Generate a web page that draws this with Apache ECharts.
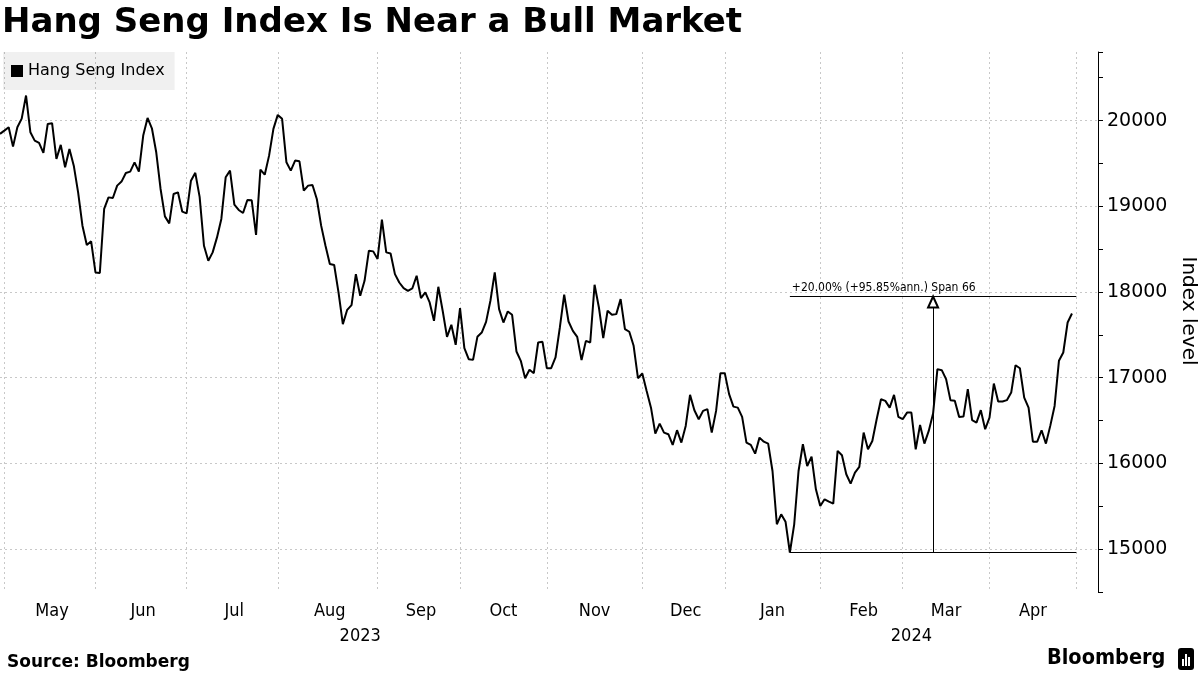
<!DOCTYPE html>
<html>
<head>
<meta charset="utf-8">
<title>Hang Seng Index Is Near a Bull Market</title>
<script src="https://cdn.jsdelivr.net/npm/echarts@6/dist/echarts.min.js"></script>
<style>
  html, body { margin: 0; padding: 0; background: #fff; }
  #main { width: 1200px; height: 675px; }
</style>
</head>
<body>
<div id="main"></div>
<script>
// trading sessions on the axis, per month: [label, year, sessions]
const monthSlots = [
  ['Apr', 2023, 2], ['May', 2023, 21], ['Jun', 2023, 21], ['Jul', 2023, 21], ['Aug', 2023, 23],
  ['Sep', 2023, 19], ['Oct', 2023, 20], ['Nov', 2023, 22], ['Dec', 2023, 19], ['Jan', 2024, 22],
  ['Feb', 2024, 19], ['Mar', 2024, 20], ['Apr', 2024, 20], ['May', 2024, 5]
];

// daily closes
const apr23 = [19845, 19883];
const may23 = [19922, 19696, 19922, 20023, 20292, 19864, 19766, 19739, 19622, 19961, 19969, 19553, 19716, 19455, 19669, 19474, 19163, 18774, 18548, 18591, 18228];
const jun23 = [18221, 18969, 19104, 19097, 19241, 19288, 19389, 19404, 19513, 19404, 19825, 20031, 19910, 19630, 19202, 18882, 18800, 19144, 19163, 18937, 18917];
const jul23 = [19299, 19390, 19110, 18540, 18365, 18462, 18637, 18852, 19338, 19416, 19019, 18957, 18922, 19074, 19070, 18665, 19428, 19369, 19591, 19903, 20066];
const aug23 = [20020, 19513, 19416, 19533, 19525, 19182, 19241, 19249, 19085, 18774, 18540, 18326, 18315, 17995, 17625, 17792, 17847, 18209, 17956, 18131, 18482, 18474, 18385];
const sep23 = [18844, 18462, 18450, 18209, 18111, 18045, 18014, 18041, 18190, 17929, 17995, 17878, 17664, 18061, 17781, 17477, 17617, 17384, 17812];
const oct23 = [17345, 17216, 17208, 17477, 17527, 17652, 17898, 18228, 17800, 17644, 17773, 17734, 17306, 17197, 16994, 17092, 17053, 17411, 17419, 17111];
const nov23 = [17111, 17236, 17586, 17968, 17656, 17547, 17477, 17205, 17430, 17411, 18084, 17819, 17462, 17781, 17734, 17742, 17917, 17567, 17536, 17372, 16994, 17049];
const dec23 = [16846, 16651, 16348, 16465, 16360, 16341, 16216, 16388, 16243, 16438, 16800, 16621, 16516, 16613, 16633, 16360, 16613, 17053, 17053];
const jan24 = [16808, 16663, 16651, 16543, 16243, 16216, 16114, 16301, 16254, 16231, 15912, 15290, 15406, 15320, 14961, 15290, 15912, 16224, 15970, 16079, 15698, 15503];
const feb24 = [15582, 15554, 15531, 16146, 16095, 15874, 15764, 15893, 15959, 16360, 16165, 16262, 16516, 16749, 16730, 16651, 16800, 16543, 16516];
const mar24 = [16593, 16593, 16165, 16449, 16231, 16379, 16582, 17100, 17088, 16983, 16738, 16730, 16543, 16547, 16866, 16504, 16476, 16621, 16399, 16535];
const apr24 = [16932, 16722, 16722, 16738, 16827, 17146, 17111, 16768, 16651, 16254, 16254, 16387, 16231, 16438, 16671, 17197, 17294, 17644, 17749];
const closesByMonth = [apr23, may23, jun23, jul23, aug23, sep23, oct23, nov23, dec23, jan24, feb24, mar24, apr24, []];

const yTicks = [15000, 16000, 17000, 18000, 19000, 20000];
const yMin = 14500, yMax = 20800;
const annText = '+20.00% (+95.85%ann.) Span 66';

const FONT = "'DejaVu Sans', 'Noto Sans', sans-serif";
const NARROW = "'DejaVu Sans Condensed', 'DejaVu Sans', sans-serif";

// build the session axis
const categories = [], closes = [], monthEnd = [], labelAt = {}, yearFirst = {}, yearLast = {};
let prevEnd = null;
monthSlots.forEach(function (m, k) {
  const start = categories.length;
  for (let d = 0; d < m[2]; d++) {
    categories.push(m[0] + ' ' + m[1] + ' #' + (d + 1));
    const v = closesByMonth[k][d];
    closes.push(v === undefined ? null : v);
  }
  const end = categories.length - 1;
  if (prevEnd !== null && k < monthSlots.length - 1) labelAt[Math.round((prevEnd + end) / 2)] = m[0];
  if (k < monthSlots.length - 1) monthEnd.push(end);
  if (yearFirst[m[1]] === undefined) yearFirst[m[1]] = start;
  yearLast[m[1]] = end;
  prevEnd = end;
});
const yearAt = {};
Object.keys(yearFirst).forEach(function (y) {
  yearAt[Math.floor((yearFirst[y] + yearLast[y]) / 2)] = y;
});

// 20% rally annotation: from the low to the day after the last close
let lowIdx = 0, lastIdx = 0;
closes.forEach(function (v, i) {
  if (v === null) return;
  if (v < closes[lowIdx]) lowIdx = i;
  lastIdx = i;
});
const lowVal = closes[lowIdx];
const topVal = lowVal * 1.2;
const endIdx = lastIdx + 1;
const midIdx = Math.round((lowIdx + endIdx) / 2);

const chart = echarts.init(document.getElementById('main'));
chart.setOption({
  animation: false,
  backgroundColor: '#fff',
  title: [
    {
      text: 'Hang Seng Index Is Near a Bull Market',
      left: 2, top: 6, padding: 0,
      textStyle: { fontFamily: FONT, fontWeight: 'bold', fontSize: 34, color: '#000' }
    },
    {
      text: 'Source: Bloomberg',
      left: 7, top: 654, padding: 0,
      textStyle: { fontFamily: FONT, fontWeight: 'bold', fontSize: 17, color: '#000' }
    }
  ],
  legend: {
    left: 3, top: 52,
    padding: [11, 10, 11, 8],
    backgroundColor: 'rgba(0,0,0,0.06)',
    icon: 'rect', itemWidth: 12, itemHeight: 12,
    textStyle: { fontFamily: FONT, fontSize: 16, color: '#000' },
    data: ['Hang Seng Index']
  },
  grid: { left: 0, right: 102, top: 52, bottom: 83, containLabel: false, outerBoundsMode: 'none' },
  xAxis: [
    {
      type: 'category', data: categories, boundaryGap: false,
      axisLine: { show: false }, axisTick: { show: false },
      axisLabel: {
        interval: function (i) { return labelAt[i] !== undefined; },
        formatter: function (v, i) { return labelAt[i] || ''; },
        margin: 10, color: '#000', fontFamily: NARROW, fontSize: 18
      },
      splitLine: {
        show: true,
        interval: function (i) { return monthEnd.indexOf(i) >= 0; },
        lineStyle: { color: '#c8c8c8', width: 1, type: [2, 3] }
      }
    },
    {
      type: 'category', data: categories, boundaryGap: false, position: 'bottom', offset: 25,
      axisLine: { show: false }, axisTick: { show: false }, splitLine: { show: false },
      axisLabel: {
        interval: function (i) { return yearAt[i] !== undefined; },
        formatter: function (v, i) { return yearAt[i] || ''; },
        margin: 10, color: '#000', fontFamily: NARROW, fontSize: 18
      }
    }
  ],
  yAxis: {
    type: 'value', position: 'right',
    min: yMin, max: yMax, interval: 500,
    axisLine: { show: true, lineStyle: { color: '#000', width: 1 } },
    axisTick: { show: true, length: 5, lineStyle: { color: '#000', width: 1 } },
    axisLabel: {
      margin: 9, color: '#000', fontFamily: FONT, fontSize: 19,
      formatter: function (v) { return yTicks.indexOf(v) >= 0 ? String(v) : ''; }
    },
    splitLine: {
      show: true, showMaxLine: false,
      lineStyle: { color: ['rgba(0,0,0,0)', '#c8c8c8'], width: 1, type: [2, 3] }
    },
    name: 'Index level', nameLocation: 'middle', nameRotate: -90, nameGap: 76,
    nameTextStyle: { fontFamily: FONT, fontSize: 20, color: '#000', padding: [0, 22, 0, 0] }
  },
  series: [
    {
      name: 'Hang Seng Index', type: 'line', data: closes,
      symbol: 'none', showSymbol: false, connectNulls: false, z: 3,
      lineStyle: { color: '#000', width: 2 },
      itemStyle: { color: '#000' },
      markLine: {
        silent: true, animation: false,
        symbol: ['none', 'none'],
        lineStyle: { color: '#000', width: 1, type: 'solid' },
        label: { show: false },
        emphasis: { disabled: true },
        data: [
          [{ coord: [lowIdx, lowVal] }, { coord: [endIdx, lowVal] }],
          [
            {
              coord: [lowIdx, topVal],
              label: {
                show: true, position: 'insideStartTop', distance: 2,
                formatter: annText, color: '#000', fontFamily: NARROW, fontSize: 12
              }
            },
            { coord: [endIdx, topVal] }
          ],
          [
            { coord: [midIdx, lowVal], symbol: 'none' },
            { coord: [midIdx, topVal], symbol: 'emptyTriangle', symbolSize: [10, 11], symbolOffset: [0, 6] }
          ]
        ]
      }
    }
  ],
  graphic: [
    {
      type: 'text', left: 1047, top: 647,
      style: { text: 'Bloomberg', font: "bold 21.5px 'DejaVu Sans Condensed', 'DejaVu Sans', sans-serif", fill: '#000' }
    },
    {
      type: 'group', left: 1178, top: 648,
      children: [
        { type: 'rect', shape: { x: 0, y: 0, width: 16, height: 22, r: 3 }, style: { fill: '#000' } },
        { type: 'rect', shape: { x: 4, y: 11, width: 2, height: 7 }, style: { fill: '#fff' } },
        { type: 'rect', shape: { x: 7, y: 6, width: 2, height: 12 }, style: { fill: '#fff' } },
        { type: 'rect', shape: { x: 10, y: 9, width: 2, height: 9 }, style: { fill: '#fff' } }
      ]
    }
  ]
});
</script>
</body>
</html>
